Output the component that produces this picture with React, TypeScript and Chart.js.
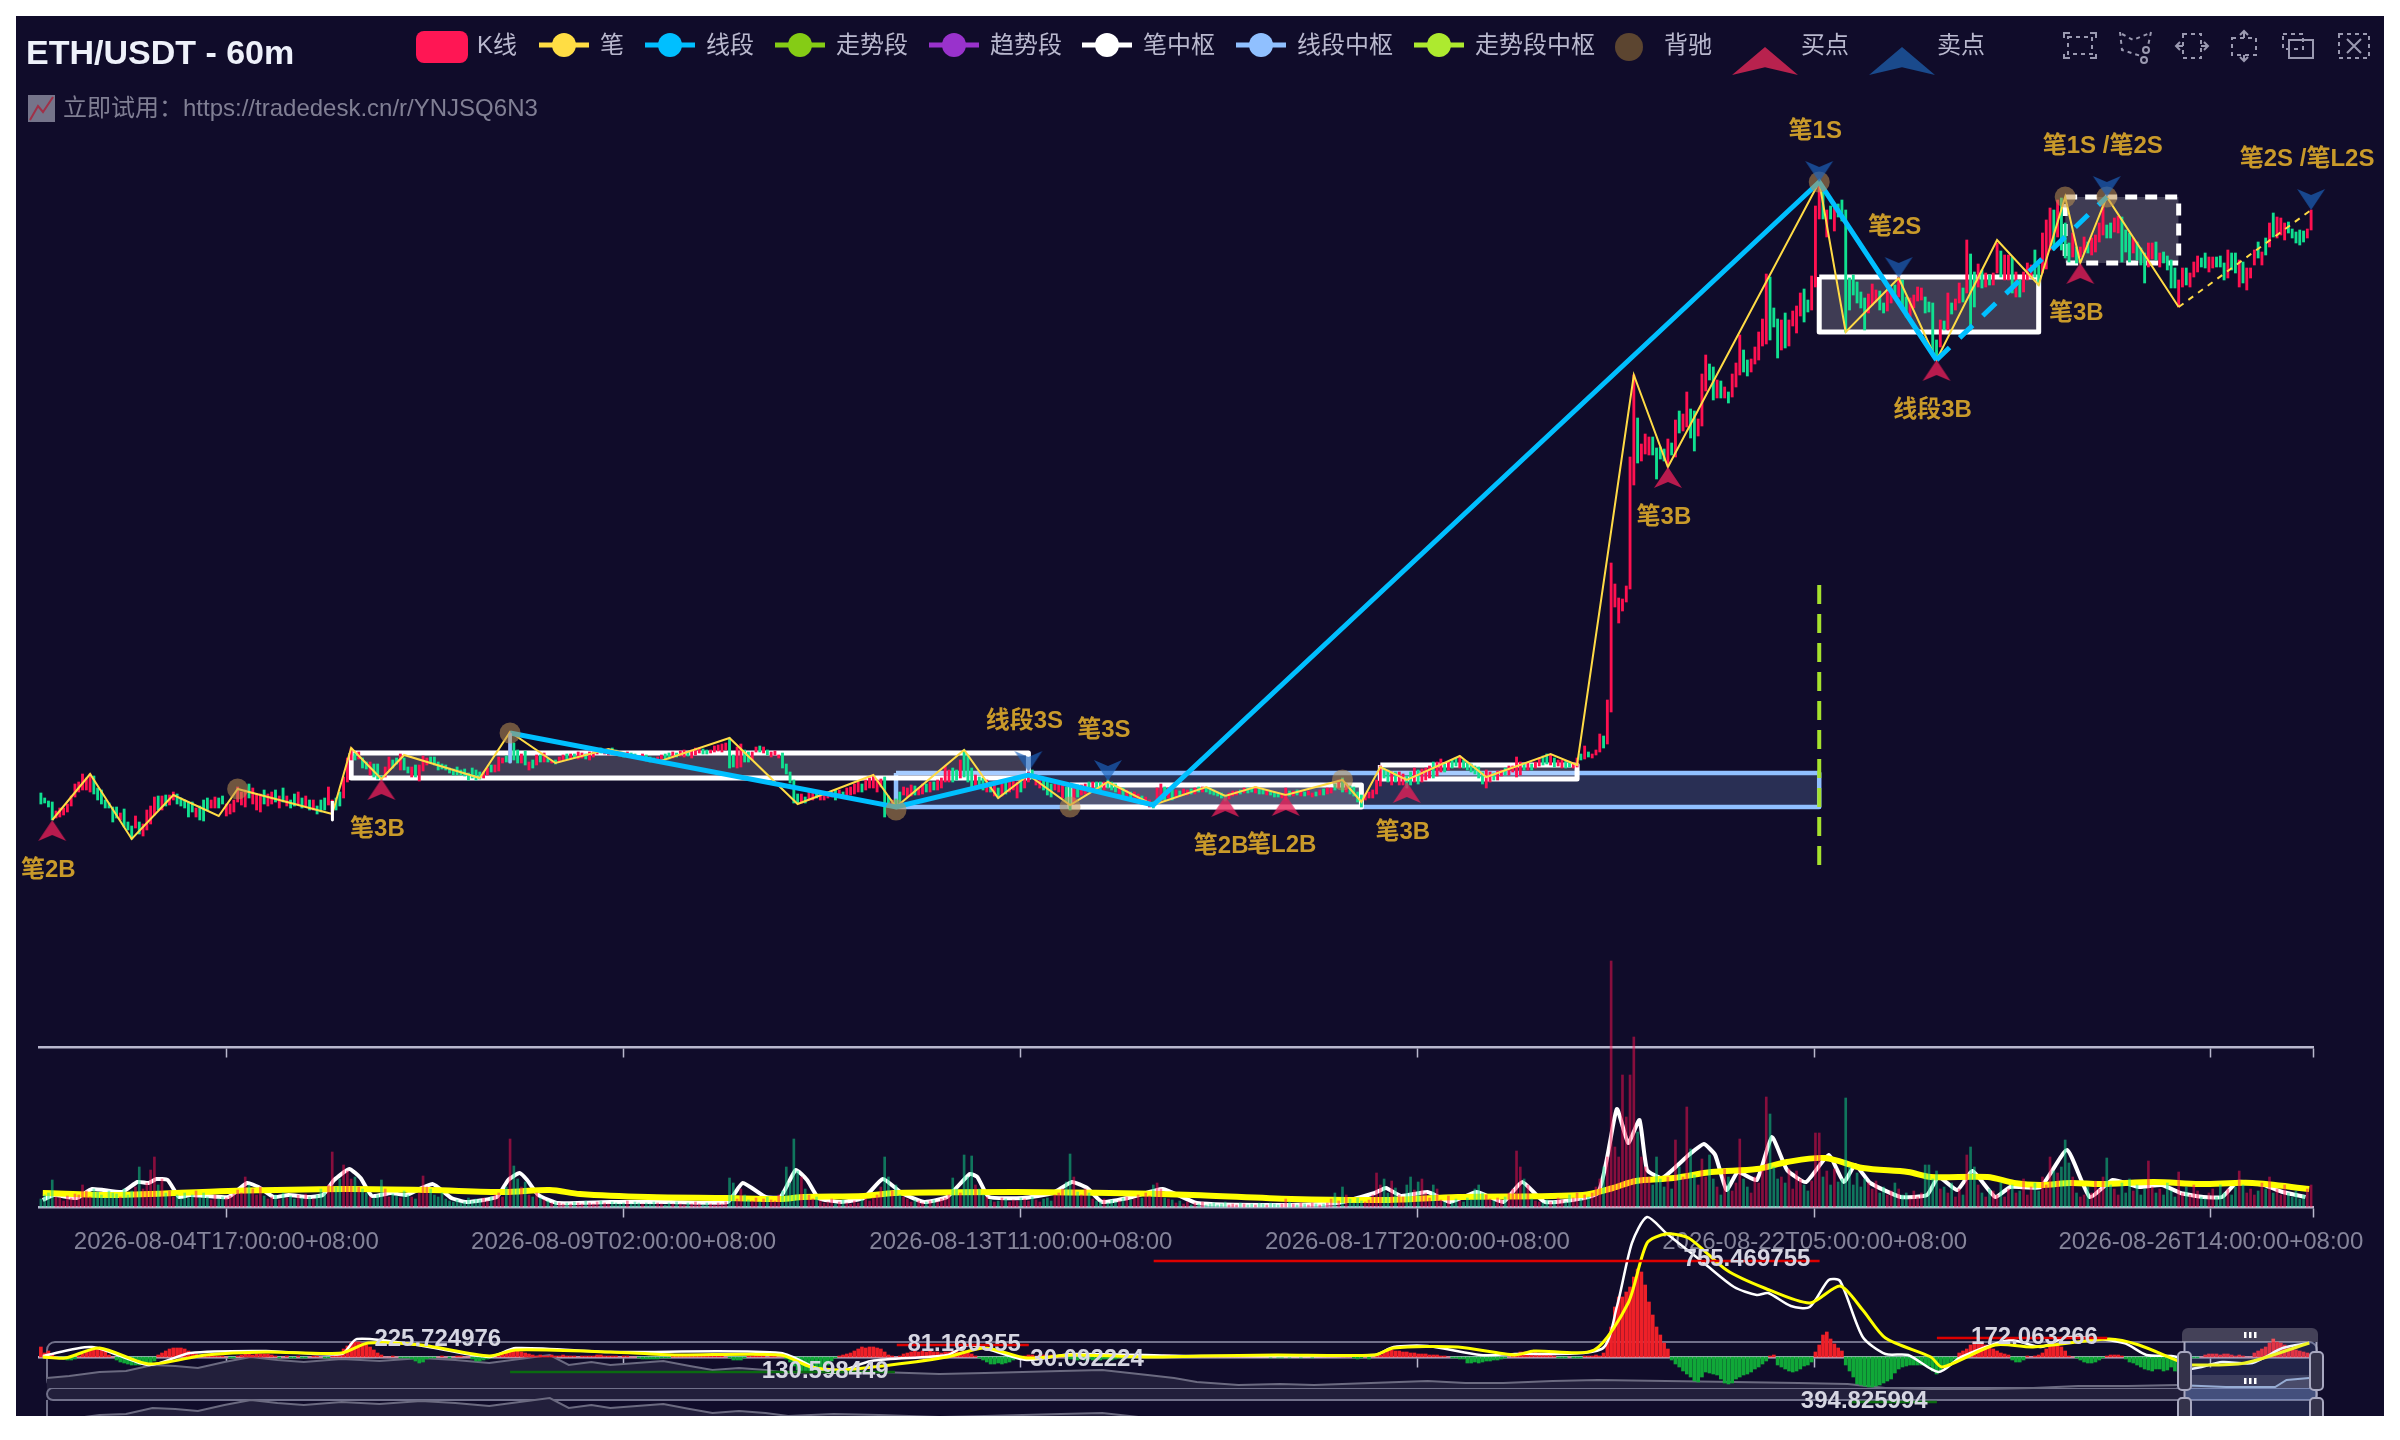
import React, { useEffect, useRef } from "react";
import { Chart, registerables } from "chart.js";

Chart.register(...registerables);

const BAR_COUNT = 601;
const axisTicks = [49.5, 154.5, 259.5, 364.3, 469.3, 574, 601];
const axisLabels = ["2026-08-04T17:00:00+08:00", "2026-08-09T02:00:00+08:00", "2026-08-13T11:00:00+08:00", "2026-08-17T20:00:00+08:00", "2026-08-22T05:00:00+08:00", "2026-08-26T14:00:00+08:00", ""];

const candleHigh = [
  107,102,99,98,89,92,92,96,104,116,118,126,122,126,124,112,110,100,97,93,
  93,87,91,78,74,84,78,76,90,94,103,104,104,105,105,108,106,102,100,98,
  98,92,94,100,102,100,103,102,104,96,96,100,113,108,110,116,112,106,106,110,
  106,108,110,104,112,104,100,106,108,102,104,100,100,94,100,102,113,100,102,108,
  123,142,152,147,148,142,138,138,136,136,124,133,143,140,142,146,142,133,133,135,
  135,144,142,143,143,138,136,135,132,131,133,130,131,127,132,130,128,128,132,135,
  135,143,142,144,168,157,150,146,149,138,140,145,145,147,142,139,140,143,145,146,
  146,146,148,147,146,148,148,150,152,150,151,152,150,147,146,148,147,146,144,146,
  145,143,142,143,145,146,147,148,147,149,150,148,150,152,152,151,150,150,154,155,
  156,157,162,145,153,156,150,148,148,153,154,153,150,148,149,145,147,136,128,120,
  106,106,103,108,109,108,107,105,106,108,110,110,108,112,113,116,118,116,120,122,
  125,120,121,123,104,100,101,108,113,112,115,114,112,116,116,118,118,120,122,134,
  130,132,130,140,150,145,132,125,123,122,120,118,116,112,116,118,120,122,118,122,
  125,128,130,125,122,120,118,116,120,118,116,113,113,112,115,115,116,118,118,118,
  118,118,120,118,116,112,112,110,108,108,106,104,103,100,98,112,116,113,112,110,
  110,109,111,110,111,112,113,113,112,112,110,108,107,105,107,109,109,110,112,112,
  112,113,111,110,110,109,108,107,106,112,109,109,110,109,108,109,107,108,110,111,
  112,112,116,120,122,116,114,113,108,105,106,108,110,120,134,132,130,128,128,128,
  126,124,128,132,130,131,132,134,138,138,141,136,138,140,142,144,140,138,136,134,
  133,128,130,128,127,129,130,132,134,134,143,138,136,137,136,138,142,144,146,145,
  142,140,140,139,138,137,142,146,154,148,146,150,166,164,200,337,316,302,301,314,
  443,525,482,456,466,463,463,452,453,451,461,457,480,489,486,508,491,489,481,526,
  545,536,533,520,519,513,508,526,537,565,550,540,541,553,568,581,626,623,592,581,
  580,587,580,589,594,607,611,600,624,694,719,708,690,694,692,696,700,690,622,625,
  618,608,602,606,616,610,609,597,610,612,615,623,620,603,602,605,613,612,603,598,
  597,560,580,579,607,597,601,617,612,660,646,628,636,630,627,625,627,657,649,645,
  645,643,628,620,628,637,635,650,635,667,680,692,690,700,702,677,657,667,653,653,
  663,658,662,665,677,700,675,677,682,684,683,670,667,662,658,652,647,657,657,658,
  647,648,644,640,632,620,632,632,627,638,644,642,647,643,643,643,644,637,650,647,
  647,640,638,632,632,650,658,648,662,677,687,683,682,677,678,671,668,670,669,671,690,
];
const candleLow = [
  96,97,93,80,82,83,85,88,94,103,108,110,110,108,106,100,96,92,92,78,
  82,80,73,70,61,72,66,64,70,76,85,90,90,94,95,100,96,94,92,83,
  88,83,80,79,90,92,92,92,96,84,86,88,98,95,93,102,96,90,88,96,
  94,96,98,92,98,94,92,94,96,92,94,90,90,86,88,90,95,86,90,94,
  102,118,140,140,141,132,131,125,123,121,121,123,130,132,136,130,130,127,123,123,
  119,129,135,137,135,130,131,130,127,125,125,125,124,120,122,120,121,122,125,128,
  128,129,137,138,140,140,137,137,135,130,132,135,138,138,138,137,136,139,140,141,
  141,142,141,142,141,140,143,146,147,146,145,146,146,144,143,145,144,142,141,141,
  139,138,138,139,140,141,141,142,143,144,143,144,142,145,147,146,146,147,148,149,
  148,150,132,133,132,133,138,138,140,148,148,147,145,143,145,142,132,126,117,97,
  97,97,97,100,100,102,100,100,102,103,100,103,102,104,105,106,108,108,110,112,
  112,108,113,83,93,95,93,96,105,103,104,105,105,106,108,108,110,110,112,118,
  118,118,120,122,123,118,110,112,112,110,108,108,104,102,104,106,108,110,102,108,
  112,118,121,115,112,110,105,103,110,108,102,98,90,96,103,105,106,110,108,109,
  108,110,112,110,108,104,102,102,100,98,98,96,96,93,92,97,98,100,102,100,
  102,104,105,105,106,106,108,108,108,106,105,104,102,99,101,104,105,106,107,107,
  108,107,106,106,105,105,103,103,102,100,104,104,105,104,104,105,103,104,105,105,
  106,107,110,112,108,108,106,104,98,93,100,102,102,106,114,122,118,115,118,115,
  115,112,115,118,116,118,120,122,122,124,128,128,130,132,134,132,132,130,128,126,
  122,116,112,118,120,120,124,125,125,128,123,125,130,130,130,132,134,135,136,135,
  133,134,132,132,133,132,133,140,141,143,142,145,148,152,156,188,293,277,289,298,
  311,415,437,439,446,445,445,421,441,439,436,445,443,467,469,473,462,449,464,474,
  509,520,500,502,502,502,497,503,513,525,528,524,528,536,540,554,556,560,573,542,
  550,552,554,574,567,584,578,588,590,613,681,681,663,681,669,683,679,568,590,605,
  597,592,570,587,595,598,590,587,589,597,602,603,593,583,583,592,599,600,587,588,
  548,543,553,570,570,586,590,597,598,607,570,593,613,612,613,615,615,627,623,620,
  620,607,603,603,608,620,622,623,615,627,631,650,650,663,650,642,638,643,637,643,
  647,647,645,648,658,665,662,662,668,667,638,648,638,647,640,635,617,633,641,640,
  633,637,630,612,612,593,613,615,613,623,628,633,632,628,632,633,633,620,622,630,
  627,613,617,610,622,635,642,635,645,653,663,662,665,660,667,662,657,655,658,662,670,
];
const candleDir =
  "GGGGRRRRRRRRRRGGGGGG" + "GRGGGRGRRRRGRGRRGGGG" + "GRGGGRRGGRRRRRRGRRRG" + "RRGRGRGGRGRGRGGGRRGG" +
  "RRRGRGGRGGGRRGGRGGRG" + "RRRGGGGGGGGGGGGGGRRG" + "RRRGRGGRGRGRGRGRGRRG" + "RGRRGRRRGRRGGGGRGGGR" +
  "GGGRRGGRGRRGRRRGGRRR" + "RRGGRRGGRRGRGRRRGGGG" + "GRGRRGRRRRGRGRRRRGRR" + "RRRGGRGGRRRGRRGRGRRR" +
  "RGGRGGGRGGRGRGRGRRRG" + "RRGRRGGGRRRGGRGRRGRG" + "GRGGGRGRGRRGRRGRRGRG" + "RGRRGRGRGGGGGGRRRGRG" +
  "GRGGRGGGRRGRGRGRRGRG" + "RRGRGRGGGGRRRRRGGRGR" + "RGGRGRRRGRRGRGGRGGGG" + "GGRRGRRGRRRRGRGRRGGR" +
  "GRRGGRRGRGRRRGRRRRRR" + "RRGRRRGGGGRGRGRRGGRR" + "RGGRGRGRRRGGRRRRRGGG" + "RGRRRRGGRRRGRGRGGGGG" +
  "GGGRRRGGRRGRGGRRRRGG" + "GGRGRGRRGRGGRGRGRRGR" + "RGRGRRRGGRRRGRGGGRGR" + "RGRRRRGGRRGGGRGGGRRG" +
  "RGGGGRRGRRRGGRRGGGRG" + "GRGRRRGRGRGRRRGGGGGRR";

const volumes = [
  8,12,14,27,10,9,6,11,9,13,12,22,16,10,18,15,12,9,16,14,
  13,10,18,12,16,20,40,18,24,37,50,22,28,14,16,10,12,8,14,9,
  12,16,9,14,10,7,12,8,10,9,11,13,17,14,30,22,18,12,20,11,
  8,10,12,7,14,9,11,8,12,9,13,10,8,12,18,14,22,55,20,28,
  42,36,28,30,20,18,14,10,9,12,27,18,10,13,11,9,16,12,10,8,
  14,31,20,18,12,10,14,8,6,5,7,4,5,9,6,8,7,9,6,10,
  12,14,10,20,68,41,28,20,25,12,10,14,9,7,6,4,5,4,3,4,
  3,5,4,3,6,4,3,5,6,4,3,5,4,3,4,6,3,5,4,3,
  4,3,5,4,3,2,4,3,5,3,2,4,3,5,3,2,4,3,2,4,
  3,5,29,24,8,18,12,7,6,9,5,8,10,7,6,12,16,40,24,68,
  36,30,18,12,8,10,6,4,5,8,3,5,7,4,3,6,4,7,8,6,
  9,12,20,50,30,16,22,12,10,8,5,7,6,4,5,6,7,5,8,9,
  12,29,18,14,52,30,51,22,18,12,10,7,5,6,9,8,5,7,6,9,
  8,6,10,7,5,8,9,6,12,14,18,25,53,30,15,12,18,14,8,6,
  5,8,4,7,5,6,9,10,7,8,12,9,14,11,22,24,18,9,8,7,
  4,6,3,5,2,4,3,5,2,3,4,2,3,5,2,3,2,4,3,2,
  3,2,4,3,2,4,3,2,3,8,5,3,2,4,3,2,4,3,2,3,
  4,8,14,6,20,12,8,4,9,6,5,7,12,34,22,28,14,26,19,12,
  10,22,30,17,25,28,14,9,22,18,7,5,11,4,8,6,5,9,7,18,
  22,14,12,8,6,9,7,10,14,18,56,40,28,22,8,6,5,4,7,5,
  6,9,7,5,12,9,14,8,12,10,14,20,28,40,50,246,60,50,132,90,
  132,170,75,50,40,30,22,50,28,20,30,18,67,40,30,100,58,32,22,48,
  30,52,28,20,12,38,30,16,24,68,28,20,14,30,24,36,110,93,40,28,
  30,24,38,18,36,28,22,16,26,74,74,30,36,22,38,25,28,109,40,22,
  34,20,28,24,18,26,14,20,12,16,24,18,12,14,8,16,10,14,42,42,
  28,36,18,20,14,24,10,18,12,52,60,40,22,14,10,18,16,12,24,10,
  18,22,14,16,28,12,20,24,16,30,22,50,36,34,40,67,44,30,14,10,
  12,20,14,26,18,30,49,22,18,12,24,14,28,16,22,12,18,46,20,14,
  18,12,24,16,10,35,14,20,12,22,16,10,8,14,18,10,22,14,18,12,
  20,36,22,14,18,12,16,24,18,30,14,18,12,22,14,10,16,8,12,18,22,
];
const macdHist = [
  10,4,6,3,0,-1,-2,-3,-3,-2,1,3,5,7,9,9,8,6,2,0,
  -3,-5,-6,-7,-8,-8,-8,-7,-7,-6,-4,2,4,6,8,9,9,9,8,6,
  4,3,1,1,2,2,1,1,1,0,-1,-1,1,2,3,3,2,3,3,3,
  3,2,1,-1,0,1,-1,-1,1,-1,-1,0,1,1,0,-1,-1,1,2,4,
  8,11,14,15,15,14,12,10,7,4,2,0,0,1,0,-1,-1,-1,-2,-4,
  -6,-5,-2,-1,-1,0,1,0,-1,0,1,1,0,0,-2,-4,-4,-3,-2,-1,
  1,2,4,5,6,6,6,5,4,3,2,1,2,1,1,2,1,1,2,1,
  1,1,0,1,1,1,1,2,2,1,1,1,1,0,1,1,0,0,-1,-2,
  -2,-2,-2,-2,-1,-1,-1,1,1,2,2,2,1,1,2,2,1,2,1,1,
  1,0,-1,-3,-3,-3,-1,1,1,2,2,1,0,1,1,0,0,-2,-5,-9,
  -13,-14,-14,-14,-13,-13,-12,-10,-8,-4,-1,1,2,3,4,6,8,10,9,10,
  10,9,8,5,2,1,0,1,3,4,5,6,5,6,5,6,5,5,4,5,
  5,6,6,5,6,5,3,1,-1,-3,-5,-7,-7,-6,-7,-6,-5,-3,-2,-1,
  1,2,2,1,2,2,1,2,1,1,0,-1,-2,-2,-3,-2,-3,-2,-3,-2,
  -3,-2,-2,-3,-2,-1,-2,-1,-1,-1,1,1,2,1,2,2,1,2,2,1,
  1,1,0,1,1,0,1,1,0,1,1,1,0,1,0,1,1,0,1,1,
  1,0,1,1,0,-1,0,-1,-1,0,-1,0,0,-1,0,1,-1,0,1,1,
  1,2,1,1,1,2,1,-1,-2,-1,0,-2,0,1,2,4,6,7,6,6,
  5,5,4,4,3,3,3,2,2,2,1,1,0,-1,-1,-2,-2,-6,-6,-5,
  -6,-5,-4,-4,-3,-3,-2,-1,0,1,3,5,5,4,4,5,4,3,3,2,
  1,-1,-1,-1,0,-1,-1,-1,1,1,1,2,1,4,15,30,50,60,60,65,
  70,80,88,85,72,55,42,30,22,14,8,-3,-7,-10,-14,-17,-20,-24,-25,-20,
  -15,-16,-17,-18,-22,-26,-27,-26,-22,-20,-18,-17,-15,-12,-10,-7,-4,1,2,-8,
  -10,-12,-14,-15,-14,-12,-9,-8,-5,5,12,22,25,18,13,9,6,-8,-14,-20,
  -27,-28,-29,-30,-30,-29,-28,-26,-24,-22,-16,-12,-10,-9,-8,-8,-8,-8,-8,-9,
  -14,-17,-14,-10,-7,-5,-2,4,6,8,12,15,15,14,12,10,8,6,4,3,
  2,-3,-5,-5,-3,1,0,1,2,4,8,11,13,13,10,6,1,0,-1,-3,
  -5,-6,-6,-5,-3,-1,1,2,2,2,1,-2,-5,-6,-8,-10,-12,-13,-14,-12,
  -12,-14,-13,-10,-14,-15,-12,-8,-3,-1,-1,0,2,3,3,3,2,3,3,2,
  1,2,1,0,0,4,6,8,10,14,18,15,14,12,10,8,7,6,5,4,3,
];

const penIdx = [3.5,13.5,24.5,35.5,47.5,52.5,77.5,82.5,90.5,96.5,116.5,124.5,136.5,150.5,163.5,182.5,200.5,220.5,226.5,244.5,253.5,261.5,272.5,282.5,294.5,308.5,313.5,321.5,329.5,344.5,349.5,354.5,361.5,375.5,382.5,399.5,406.5,421.5,430.5,470.5,477.5,491.5,501.5,517.5,528.5,535.5,539.5,546.5,565.5];
const penPrice = [80,126,61,105,84,111,86,152,121,145,122,168,137,151,138,162,96,125,93,150,102,125,95,118,95,113,104,113,105,120,98,133,120,144,123,146,135,525,433,718,568,622,540,660,615,703,637,703,593];
const penDashIdx = [565.5,600.5];
const penDashPrice = [593,690];

const segIdx = [124.5,226.5,261.5,294.5,470.5,501.5];
const segPrice = [167,93,125,95,718,540];
const segDashIdx = [501.5,546.5];
const segDashPrice = [540,703];

const penZones = [[82.5,261.5,147,122],[272.5,349.5,115,93],[354.5,406.5,135,121],[470.5,528.5,623,568]];
const penDashZone = [[535.5,565.5,703,637]];
const penTicks = [[77.5,77.6,99,80]];
const segZones = [[226.5,470.5,127,93]];
const segTicks = [[124.4,124.6,166,138]];
const trendZoneIdx = [470.5,470.5];
const trendZonePrice = [315,32];

const divergeIdx = [52.5,124.5,226.5,272.5,344.5,470.5,535.5,546.5];
const divergePrice = [111,167,90,93,120,718,703,703];

const buyIdx = [3.5,90.5,313.5,329.5,361.5,430.5,501.5,539.5];
const buyPrice = [80,121,104,105,118,433,540,637];
const buyText = ["笔2B","笔3B","笔2B","笔L2B","笔3B","笔3B","线段3B","笔3B"];
const sellIdx = [261.5,282.5,470.5,491.5,546.5,600.5];
const sellPrice = [128,119,718,622,703,690];
const sellText = ["线段3S","笔3S","笔1S","笔2S","笔1S /笔2S","笔2S /笔L2S"];

const maFastIdx = [1,4,10,14,22,26,29,31,34,37,40,50,55,58,62,66,71,75,78,82,85,88,93,97,104,109,113,121,124,127,129,132,137,151,167,182,186,192,196,200,203,206,212,218,223,228,234,240,246,248,251,260,268,273,277,281,289,297,306,327,343,353,356,360,367,373,380,387,392,398,412,417,420,423,425,429,436,440,443,446,449,454,458,462,467,473,477,480,484,492,499,502,507,511,517,521,529,536,542,548,555,561,566,572,577,581,588,593,599];
const maFastVal = [7,12,9,18,15,25,24,28,27,10,12,10,24,20,10,12,10,12,27,38,29,11,14,12,23,9,5,10,27,34,27,12,4,5,5,5,24,10,10,37,27,9,5,9,28,14,5,10,33,30,10,9,14,25,19,5,10,18,4,2,4,14,19,11,15,5,15,5,25,5,14,98,64,87,37,29,52,63,52,17,35,27,70,37,25,52,25,42,24,10,12,30,17,36,10,20,20,57,10,27,20,22,14,10,10,25,22,15,10];
const maSlowIdx = [1,20,50,81,103,123,135,143,161,182,196,202,218,226,258,283,305,331,355,375,408,416,422,432,442,454,462,472,482,494,500,515,522,529,537,545,559,571,585,600];
const maSlowVal = [14,12,16,18,17,15,17,13,10,9,8,10,11,14,15,14,12,8,7,10,12,19,26,29,35,38,45,49,39,35,30,30,24,22,24,23,25,23,24,18];

const deaIdx = [1,7,16,29,44,60,80,87,101,119,126,151,168,196,204,212,225,240,250,261,273,293,307,327,353,358,375,390,395,411,420,425,430,436,446,456,468,476,482,488,500,503,517,527,547,555,566,569,583,600];
const deaVal = [0,-1,9,-7,2,5,4,14,12,1,7,5,2,2,-10,-13,-8,0,9,-1,2,0,1,2,2,9,10,2,6,7,54,114,123,119,87,69,54,71,47,19,0,-10,12,10,18,12,-5,-8,-6,14];
const difIdx = [1,14,29,40,60,80,84,100,119,126,151,196,209,220,240,246,261,273,305,353,358,367,381,390,413,417,421,425,430,440,448,454,457,463,468,473,476,482,488,494,502,508,521,529,536,551,557,565,568,577,585,593,600];
const difVal = [1,10,-8,4,6,3,18,12,0,9,5,4,-16,-4,2,12,-3,3,1,2,10,11,2,3,8,50,114,140,124,94,70,62,64,51,50,77,76,20,3,2,-15,0,17,10,20,14,2,0,-12,-5,-6,9,14];

const macdMarkText = ["225.724976","81.160355","30.092224","130.598449","755.469755","172.063266","394.825994"];
const macdMarkIdx = [105.4,244.5,277,207.8,451.4,527.4,482.4];
const macdMarkLevel = [18,13,-2,-14,98,20,-44];
const redMarkLines = [[294.6,470.6,96],[226.7,261.6,12],[501.6,546.6,19]];
const greenMarkLines = [[124.5,226.2,-15],[479,501.6,-45]];

const sliderIdx = [2,8,16,23,30,36,42,49,56,63,70,80,90,101,110,119,127,135,140,146,151,158,165,172,178,185,192,198,210,222,230,238,250,260,270,281,293,300,306,317,328,337,352,367,377,387,400,412,430,448,465,478,488,500,515,527,539,552,565,578,591,594,600];
const sliderVal = [22,24,28,29,35,34,32,38,43,40,38,41,39,42,40,37,41,45,35,38,35,37,39,34,30,32,30,27,29,28,27,26,27,28,29,30,25,22,18,15,16,15,17,19,17,17,19,20,19,18,17,16,12,11,11,12,14,14,15,13,13,20,22];

const BG = "#100C2A";
const AXIS = "#B9B8CE";
const UP = "#ff1050";
const DOWN = "#10e090";
const PEN = "#FFDB45";
const SEG = "#00BFFF";
const GOLD = "#C99A2A";
const SANS = '"Liberation Sans","Noto Sans CJK SC",sans-serif';

const zip = (xs: number[], ys: number[]) => xs.map((x, i) => ({ x, y: ys[i] }));

function arrowPath(ctx: any, cx: number, tip: number, w: number, h: number, up: boolean) {
  const s = up ? 1 : -1;
  ctx.beginPath();
  ctx.moveTo(cx, tip);
  ctx.lineTo(cx + w / 2, tip + s * h);
  ctx.lineTo(cx, tip + s * h * 0.72);
  ctx.lineTo(cx - w / 2, tip + s * h);
  ctx.closePath();
}
function arrowSprite(color: string, up: boolean) {
  const c = document.createElement("canvas");
  c.width = 32;
  c.height = 48;
  const ctx = c.getContext("2d") as any;
  ctx.fillStyle = color;
  arrowPath(ctx, 16, 24, 28, 21, up);
  ctx.fill();
  return c;
}

function lineSet(data: any[], color: string, width: number, order: number, extra: any = {}) {
  return { type: "line", data, borderColor: color, borderWidth: width, pointRadius: 0, tension: 0, fill: false, order, xAxisID: "x", yAxisID: "yMain", clip: false, ...extra };
}
function zoneSets(zones: number[][], stroke: string, fillColor: string, width: number, order: number, dash: number[] = []) {
  const out: any[] = [];
  zones.forEach(([a, b, top, low]) => {
    if (fillColor) {
      out.push(lineSet([{ x: a, y: top }, { x: b, y: top }], "transparent", 0, order + 1, { fill: { value: low }, backgroundColor: fillColor }));
    }
    out.push(lineSet([{ x: a, y: top }, { x: b, y: top }, { x: b, y: low }, { x: a, y: low }, { x: a, y: top }], stroke, width, order, { borderDash: dash, borderJoinStyle: "round" }));
  });
  return out;
}

function legendDot(ctx: any, x0: number, color: string, text: string) {
  ctx.strokeStyle = color;
  ctx.lineWidth = 5;
  ctx.beginPath();
  ctx.moveTo(x0, 45);
  ctx.lineTo(x0 + 50, 45);
  ctx.stroke();
  ctx.fillStyle = color;
  ctx.beginPath();
  ctx.arc(x0 + 25, 45, 12, 0, Math.PI * 2);
  ctx.fill();
  ctx.fillStyle = AXIS;
  ctx.fillText(text, x0 + 61, 46);
}

function toolbox(ctx: any) {
  ctx.strokeStyle = "#9a99b0";
  ctx.fillStyle = "#9a99b0";
  ctx.lineWidth = 2;
  const dashed = (fn: () => void) => { ctx.setLineDash([4, 4]); ctx.beginPath(); fn(); ctx.stroke(); ctx.setLineDash([]); };
  const solid = (fn: () => void) => { ctx.beginPath(); fn(); ctx.stroke(); };
  dashed(() => ctx.rect(2068, 37, 24, 17));
  solid(() => { [[2064, 38, 2064, 33, 2070, 33], [2096, 38, 2096, 33, 2090, 33], [2064, 54, 2064, 58, 2070, 58], [2096, 54, 2096, 58, 2090, 58]].forEach((p) => { ctx.moveTo(p[0], p[1]); ctx.lineTo(p[2], p[3]); ctx.lineTo(p[4], p[5]); }); });
  dashed(() => { ctx.moveTo(2120, 32); ctx.lineTo(2122, 50); ctx.lineTo(2141, 56); ctx.moveTo(2151, 32); ctx.lineTo(2148, 46); ctx.moveTo(2122, 34); ctx.lineTo(2133, 40); ctx.lineTo(2150, 33); });
  solid(() => { ctx.arc(2146, 50, 3, 0, 7); ctx.moveTo(2147, 60); ctx.arc(2144, 60, 3, 0, 7); });
  dashed(() => ctx.rect(2183, 34, 18, 24));
  solid(() => { ctx.moveTo(2176, 46); ctx.lineTo(2183, 46); ctx.moveTo(2180, 42); ctx.lineTo(2176, 46); ctx.lineTo(2180, 50); ctx.moveTo(2201, 46); ctx.lineTo(2208, 46); ctx.moveTo(2204, 42); ctx.lineTo(2208, 46); ctx.lineTo(2204, 50); });
  dashed(() => ctx.rect(2232, 38, 24, 17));
  solid(() => { ctx.moveTo(2244, 31); ctx.lineTo(2244, 38); ctx.moveTo(2240, 35); ctx.lineTo(2244, 31); ctx.lineTo(2248, 35); ctx.moveTo(2244, 55); ctx.lineTo(2244, 61); ctx.moveTo(2240, 57); ctx.lineTo(2244, 61); ctx.lineTo(2248, 57); });
  dashed(() => ctx.rect(2283, 34, 20, 15));
  solid(() => ctx.rect(2289, 40, 24, 18));
  dashed(() => ctx.rect(2339, 34, 30, 24));
  solid(() => { ctx.moveTo(2347, 39); ctx.lineTo(2361, 53); ctx.moveTo(2361, 39); ctx.lineTo(2347, 53); });
}

const overlay = {
  id: "overlay",
  afterLayout(chart: any) {
    // The hidden value scales share the full canvas height, so one unit keeps one fixed span.
    const h = chart.height;
    chart.chartArea.top = 0;
    chart.chartArea.bottom = h;
    chart.chartArea.height = h;
    ["yMain", "yVol", "yMacd", "ySliderA", "ySliderB"].forEach((id) => {
      const s = chart.scales[id];
      s.top = 0;
      s.bottom = h;
      s.height = h;
      s.configure();
    });
  },
  beforeDatasetsDraw(chart: any) {
    const ctx = chart.ctx;
    ctx.save();
    ctx.translate(-16, -16);
    ctx.fillStyle = "#221f3b";
    ctx.fillRect(47, 1388, 2270, 12);
    ctx.strokeStyle = "#71708A";
    ctx.lineWidth = 2;
    ctx.beginPath();
    ctx.roundRect(47, 1342, 2270, 46, 8);
    ctx.roundRect(47, 1388, 2270, 12, 8);
    ctx.moveTo(47, 1400);
    ctx.lineTo(47, 1416);
    ctx.stroke();
    ctx.restore();
  },
  afterDatasetsDraw(chart: any) {
    const ctx = chart.ctx;
    const { x: sx, yMain, yMacd } = chart.scales;
    ctx.save();
    ctx.translate(-16, -16);

    ctx.fillStyle = "rgba(135,175,255,0.14)";
    ctx.fillRect(2184, 1342, 133, 46);
    ctx.fillStyle = "rgba(135,175,255,0.34)";
    ctx.fillRect(2184, 1388, 133, 12);
    ctx.fillStyle = "rgba(135,175,255,0.14)";
    ctx.fillRect(2184, 1400, 133, 16);
    ctx.fillStyle = "rgba(255,255,255,0.22)";
    ctx.beginPath();
    ctx.roundRect(2182, 1328, 136, 14, [6, 6, 0, 0]);
    ctx.fill();
    ctx.fillStyle = "rgba(255,255,255,0.12)";
    ctx.fillRect(2184, 1375, 133, 13);
    ctx.fillStyle = "#ffffff";
    [2245, 2250, 2255].forEach((x) => {
      ctx.fillRect(x - 1, 1332, 2.5, 6);
      ctx.fillRect(x - 1, 1378, 2.5, 6);
    });
    ctx.strokeStyle = "#a8a8c0";
    ctx.lineWidth = 2;
    [2184.5, 2316.5].forEach((x) => {
      ctx.beginPath();
      ctx.moveTo(x, 1342);
      ctx.lineTo(x, 1352);
      ctx.moveTo(x, 1390);
      ctx.lineTo(x, 1398);
      ctx.stroke();
      ctx.fillStyle = "#34324a";
      ctx.beginPath();
      ctx.roundRect(x - 6.5, 1352, 13, 38, 4);
      ctx.fill();
      ctx.stroke();
      ctx.beginPath();
      ctx.roundRect(x - 6.5, 1398, 13, 38, 4);
      ctx.fill();
      ctx.stroke();
    });

    ctx.font = `bold 24px ${SANS}`;
    ctx.fillStyle = GOLD;
    ctx.textAlign = "center";
    ctx.textBaseline = "middle";
    buyIdx.forEach((v, i) => {
      ctx.fillText(buyText[i], sx.getPixelForValue(v) + 16 - 4, yMain.getPixelForValue(buyPrice[i]) + 16 + 50);
    });
    sellIdx.forEach((v, i) => {
      ctx.fillText(sellText[i], sx.getPixelForValue(v) + 16 - 4, yMain.getPixelForValue(sellPrice[i]) + 16 - 51);
    });

    ctx.font = `bold 24px ${SANS}`;
    macdMarkText.forEach((t, i) => {
      const px = sx.getPixelForValue(macdMarkIdx[i]) + 16;
      const py = yMacd.getPixelForValue(macdMarkLevel[i]) + 16;
      ctx.fillStyle = "#d6d6e2";
      ctx.fillText(t, px, py);
    });

    ctx.textAlign = "left";
    ctx.font = `bold 34px ${SANS}`;
    ctx.fillStyle = "#EEF1FA";
    ctx.fillText("ETH/USDT - 60m", 26, 55);
    ctx.fillStyle = "#75748a";
    ctx.fillRect(28, 95, 27, 27);
    ctx.strokeStyle = "#a03048";
    ctx.lineWidth = 2;
    ctx.beginPath();
    ctx.moveTo(30, 120);
    ctx.lineTo(38, 106);
    ctx.lineTo(43, 112);
    ctx.lineTo(53, 97);
    ctx.stroke();
    ctx.font = `24px ${SANS}`;
    ctx.fillStyle = "#807f94";
    ctx.fillText("立即试用：https://tradedesk.cn/r/YNJSQ6N3", 63, 109);

    ctx.fillStyle = "#ff1654";
    ctx.beginPath();
    ctx.roundRect(416, 31, 52, 32, 8);
    ctx.fill();
    ctx.fillStyle = AXIS;
    ctx.fillText("K线", 477, 46);
    legendDot(ctx, 539, "#FFDD44", "笔");
    legendDot(ctx, 645, "#00BFFF", "线段");
    legendDot(ctx, 775, "#85CC15", "走势段");
    legendDot(ctx, 929, "#9932CC", "趋势段");
    legendDot(ctx, 1082, "#FFFFFF", "笔中枢");
    legendDot(ctx, 1236, "#90C0FF", "线段中枢");
    legendDot(ctx, 1414, "#ADEA2F", "走势段中枢");
    ctx.fillStyle = "#5c4530";
    ctx.beginPath();
    ctx.arc(1629, 47, 14, 0, Math.PI * 2);
    ctx.fill();
    ctx.fillStyle = AXIS;
    ctx.fillText("背驰", 1664, 46);
    ctx.fillStyle = "#b8224e";
    arrowPath(ctx, 1765, 47, 66, 28, true);
    ctx.fill();
    ctx.fillStyle = AXIS;
    ctx.fillText("买点", 1801, 46);
    ctx.fillStyle = "#1a4a8c";
    arrowPath(ctx, 1902, 47, 66, 28, true);
    ctx.fill();
    ctx.fillStyle = AXIS;
    ctx.fillText("卖点", 1937, 46);

    toolbox(ctx);
    ctx.restore();
  },
};

const timeScale = (position: any, showLabels: boolean) => ({
  type: "linear",
  min: 0,
  max: BAR_COUNT,
  offset: false,
  position,
  afterBuildTicks: (s: any) => { s.ticks = axisTicks.map((value) => ({ value })); },
  afterFit: (s: any) => { s.height = 0; },
  border: { display: true, color: AXIS, width: 2.5 },
  grid: { display: true, offset: false, drawOnChartArea: false, drawTicks: true, tickLength: 9, tickColor: AXIS, tickWidth: 1.5 },
  ticks: {
    display: showLabels,
    autoSkip: false,
    maxRotation: 0,
    minRotation: 0,
    padding: 12,
    color: "#85849a",
    font: { size: 24, family: SANS },
    callback: (v: number) => axisLabels[axisTicks.indexOf(v)] ?? "",
  },
});

export default function App() {
  const ref = useRef<HTMLCanvasElement>(null);
  useEffect(() => {
    if (!ref.current) return;
    const lens = [candleHigh.length, candleLow.length, candleDir.length, volumes.length, macdHist.length];
    if (lens.some((n) => n !== BAR_COUNT)) throw new Error("length mismatch " + lens.join(","));
    const barsAt = (ys: any[]) => ys.map((y, i) => ({ x: i + 0.5, y }));
    const upDown = (alphaUp: string, alphaDown: string) => candleDir.split("").map((d) => (d === "R" ? alphaUp : alphaDown));
    const datasets: any[] = [
      lineSet(zip(sliderIdx, sliderVal), "#6b6a80", 2, 200, { yAxisID: "ySliderA", fill: { value: 12 }, backgroundColor: "#221f3b", segment: { borderColor: (c: any) => (c.p0.parsed.x >= 565 ? "#8aa0c8" : undefined) } }),
      lineSet(zip(sliderIdx, sliderVal), "#6b6a80", 2, 199, { yAxisID: "ySliderB", fill: { value: 27 }, backgroundColor: "#221f3b", clip: true, segment: { borderColor: (c: any) => (c.p0.parsed.x >= 565 ? "#8aa0c8" : undefined) } }),
      ...zoneSets(segZones, "#90C0FF", "rgba(144,192,255,0.2)", 4.5, 180),
      ...zoneSets(segTicks, "#90C0FF", "", 3, 60),
      ...zoneSets(penZones, "#FFFFFF", "rgba(255,255,255,0.2)", 5, 170),
      ...zoneSets(penDashZone, "#FFFFFF", "rgba(255,255,255,0.2)", 5, 170, [12, 8]),
      ...zoneSets(penTicks, "#FFFFFF", "", 3, 60),
      lineSet(zip(maFastIdx, maFastVal), "#FFFFFF", 4, 150, { yAxisID: "yVol", tension: 0.15 }),
      lineSet(zip(maSlowIdx, maSlowVal), "#FFFF00", 6, 149, { yAxisID: "yVol", tension: 0.3 }),
      { type: "bar", label: "成交量", data: barsAt(volumes), backgroundColor: upDown("rgba(255,16,80,0.5)", "rgba(16,224,144,0.5)"), barThickness: 2, grouped: false, order: 140, xAxisID: "x", yAxisID: "yVol", clip: false },
      { type: "bar", label: "MACD", data: barsAt(macdHist), backgroundColor: macdHist.map((v) => (v >= 0 ? "#ee2028" : "#10a838")), barThickness: 3, grouped: false, order: 130, xAxisID: "x", yAxisID: "yMacd", clip: false },
      lineSet(zip(difIdx, difVal), "#FFFFFF", 2.5, 120, { yAxisID: "yMacd", tension: 0.25 }),
      lineSet(zip(deaIdx, deaVal), "#FFFF00", 3, 119, { yAxisID: "yMacd", tension: 0.25 }),
      ...redMarkLines.map(([a, b, v]) => lineSet([{ x: a, y: v }, { x: b, y: v }], "#dd0000", 2.5, 118, { yAxisID: "yMacd" })),
      ...greenMarkLines.map(([a, b, v]) => lineSet([{ x: a, y: v }, { x: b, y: v }], "#0a6a10", 2.5, 118, { yAxisID: "yMacd" })),
      { type: "bar", label: "K线", data: barsAt(candleLow.map((l, i) => [l, candleHigh[i]])), backgroundColor: upDown(UP, DOWN), barThickness: 2.2, minBarLength: 2, grouped: false, order: 100, xAxisID: "x", yAxisID: "yMain", clip: false },
      lineSet(zip(penIdx, penPrice), PEN, 2, 90, { label: "笔" }),
      lineSet(zip(penDashIdx, penDashPrice), PEN, 2, 90, { borderDash: [6, 6] }),
      lineSet(zip(segIdx, segPrice), SEG, 5, 80, { label: "线段" }),
      lineSet(zip(segDashIdx, segDashPrice), SEG, 5, 80, { borderDash: [18, 14] }),
      lineSet(zip(trendZoneIdx, trendZonePrice), "#A6E22E", 4, 70, { label: "走势段中枢", borderDash: [19, 10] }),
      lineSet(zip(divergeIdx, divergePrice), "transparent", 0, 50, { label: "背驰", showLine: false, pointRadius: 10.5, pointBackgroundColor: "rgba(190,145,80,0.55)", pointBorderWidth: 0 }),
      lineSet(zip(buyIdx, buyPrice), "transparent", 0, 40, { label: "买点", showLine: false, pointRadius: 6, pointStyle: arrowSprite("rgba(232,32,88,0.78)", true) }),
      lineSet(zip(sellIdx, sellPrice), "transparent", 0, 40, { label: "卖点", showLine: false, pointRadius: 6, pointStyle: arrowSprite("rgba(28,100,190,0.68)", false) }),
    ];
    const chart = new Chart(ref.current, {
      type: "bar",
      data: { datasets },
      plugins: [overlay],
      options: {
        responsive: false,
        animation: false,
        devicePixelRatio: 1,
        events: [],
        layout: { padding: { left: 23, right: 71, top: 0, bottom: 0 } },
        plugins: { legend: { display: false }, title: { display: false }, tooltip: { enabled: false } },
        scales: {
          x: timeScale({ yVol: 0 }, true),
          xTop: timeScale({ yVol: 160 }, false),
          xMacd: timeScale({ yMacd: 0 }, false),
          yMain: { type: "linear", display: false, min: -516, max: 884 },
          yVol: { type: "linear", display: false, min: -209, max: 1191 },
          yMacd: { type: "linear", display: false, min: -59, max: 1341 },
          ySliderA: { type: "linear", display: false, min: -16, max: 1384 },
          ySliderB: { type: "linear", display: false, min: 27, max: 1427 },
        },
      } as any,
    } as any);
    return () => chart.destroy();
  }, []);
  return (
    <div style={{ position: "absolute", left: 16, top: 16, width: 2368, height: 1400, background: BG }}>
      <canvas ref={ref} width={2368} height={1400} style={{ display: "block", width: 2368, height: 1400 }} />
    </div>
  );
}
